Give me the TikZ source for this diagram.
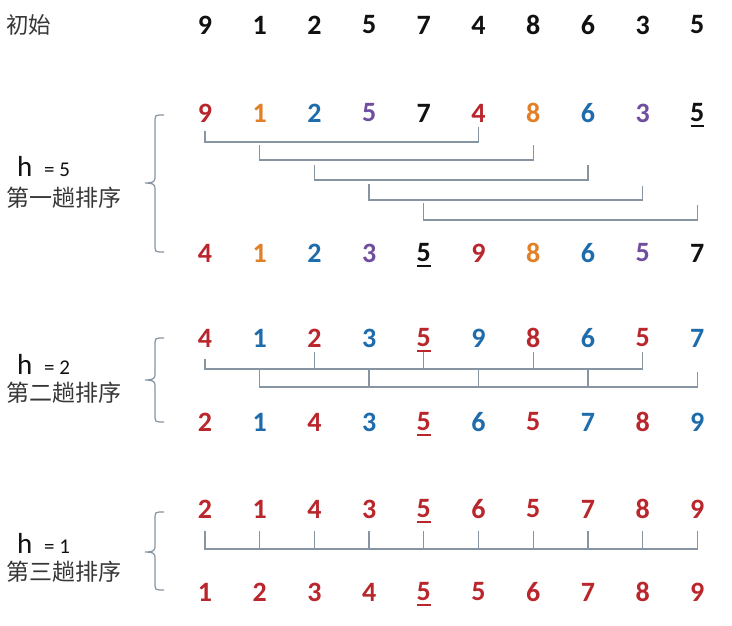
\documentclass[tikz,border=0pt]{standalone}
\usepackage{fontspec}
\newfontfamily\carl{Carlito}
\newfontfamily\cjk{Noto Sans CJK SC}
\definecolor{cR}{RGB}{185,38,44}
\definecolor{cO}{RGB}{226,128,40}
\definecolor{cB}{RGB}{30,108,172}
\definecolor{cP}{RGB}{112,78,158}
\definecolor{cK}{RGB}{17,17,17}
\definecolor{lineC}{RGB}{135,148,162}
\definecolor{labC}{RGB}{55,55,55}
\newcommand\digrow[3]{%
  \foreach \d/\c/\u [count=\i, evaluate=\i as \x using 205+(\i-1)*54.7] in {#3} {%
    \node[dig,text=\c] (#1\i) at (\x,#2) {\d};
    \ifnum\u=1
      \draw[line width=2pt,\c] ([yshift=-4pt,xshift=0.5pt]#1\i.south west) -- ([yshift=-4pt,xshift=-0.5pt]#1\i.south east);
    \fi
  }}
\begin{document}
\begin{tikzpicture}[x=1pt,y=-1pt,
  dig/.style={inner sep=0pt, font=\carl\bfseries\fontsize{28}{28}\selectfont},
  hlab/.style={inner sep=0pt, anchor=base west, text=cK, font=\carl\fontsize{29}{29}\selectfont},
  eqlab/.style={inner sep=0pt, anchor=base west, text=cK, font=\carl\fontsize{21}{21}\selectfont},
  cjlab/.style={inner sep=0pt, anchor=west, text=labC, font=\cjk\fontsize{23}{23}\selectfont},
  conn/.style={draw=lineC, line width=1.3pt},
  brace/.style={draw=lineC, line width=1.2pt}]
\useasboundingbox (0,0) rectangle (732,625);
\fill[white] (0,0) rectangle (732,625);

% initial row
\node[cjlab, font=\cjk\fontsize{22.5}{22.5}\selectfont] (init) at (6,25) {初始};
\digrow{r0}{25}{9/cK/0,1/cK/0,2/cK/0,5/cK/0,7/cK/0,4/cK/0,8/cK/0,6/cK/0,3/cK/0,5/cK/0}

% pass 1, h = 5
\digrow{r1t}{113}{9/cR/0,1/cO/0,2/cB/0,5/cP/0,7/cK/0,4/cR/0,8/cO/0,6/cB/0,3/cP/0,5/cK/1}
\digrow{r1b}{253}{4/cR/0,1/cO/0,2/cB/0,3/cP/0,5/cK/1,9/cR/0,8/cO/0,6/cB/0,5/cP/0,7/cK/0}
\node[hlab] (h1) at (17,176) {h};
\node[eqlab] (e1) at (44,176) {= 5};
\node[cjlab] (p1) at (6,198) {第一趟排序};
\draw[brace] (164,115) -- (159,115) .. controls (156,115) and (155,116) .. (155,119) -- (155,178) .. controls (155,182) and (152,183) .. (145,183) .. controls (152,183) and (155,184) .. (155,188) -- (155,248) .. controls (155,251) and (156,252) .. (159,252) -- (164,252);

\draw[conn] (r1t1 |- 0,131) -- (r1t1 |- 0,142) -- (r1t6 |- 0,142) -- (r1t6 |- 0,127);
\draw[conn] (r1t2 |- 0,145) -- (r1t2 |- 0,160) -- (r1t7 |- 0,160) -- (r1t7 |- 0,145);
\draw[conn] (r1t3 |- 0,165) -- (r1t3 |- 0,180) -- (r1t8 |- 0,180) -- (r1t8 |- 0,165);
\draw[conn] (r1t4 |- 0,184) -- (r1t4 |- 0,200) -- (r1t9 |- 0,200) -- (r1t9 |- 0,186);
\draw[conn] (r1t5 |- 0,203) -- (r1t5 |- 0,220) -- (r1t10 |- 0,220) -- (r1t10 |- 0,205);

% pass 2, h = 2
\digrow{r2t}{338}{4/cR/0,1/cB/0,2/cR/0,3/cB/0,5/cR/1,9/cB/0,8/cR/0,6/cB/0,5/cR/0,7/cB/0}
\digrow{r2b}{422}{2/cR/0,1/cB/0,4/cR/0,3/cB/0,5/cR/1,6/cB/0,5/cR/0,7/cB/0,8/cR/0,9/cB/0}
\node[hlab] (h2) at (17,374) {h};
\node[eqlab] (e2) at (44,374) {= 2};
\node[cjlab] (p2) at (6,393) {第二趟排序};
\draw[brace] (164,338) -- (159,338) .. controls (156,338) and (155,339) .. (155,342) -- (155,375) .. controls (155,379) and (152,380) .. (145,380) .. controls (152,380) and (155,381) .. (155,385) -- (155,418) .. controls (155,421) and (156,422) .. (159,422) -- (164,422);

\draw[conn] (r2t1 |- 0,359) -- (r2t1 |- 0,369) -- (r2t9 |- 0,369) -- (r2t9 |- 0,352);
\foreach \k in {3,5,7} \draw[conn] (r2t\k |- 0,352) -- (r2t\k |- 0,369);
\draw[conn] (r2t2 |- 0,369) -- (r2t2 |- 0,387) -- (r2t10 |- 0,387) -- (r2t10 |- 0,372);
\foreach \k in {4,6,8} \draw[conn] (r2t\k |- 0,369) -- (r2t\k |- 0,387);

% pass 3, h = 1
\digrow{r3t}{509}{2/cR/0,1/cR/0,4/cR/0,3/cR/0,5/cR/1,6/cR/0,5/cR/0,7/cR/0,8/cR/0,9/cR/0}
\digrow{r3b}{592}{1/cR/0,2/cR/0,3/cR/0,4/cR/0,5/cR/1,5/cR/0,6/cR/0,7/cR/0,8/cR/0,9/cR/0}
\node[hlab] (h3) at (17,553) {h};
\node[eqlab] (e3) at (44,553) {= 1};
\node[cjlab] (p3) at (6,572) {第三趟排序};
\draw[brace] (164,512) -- (159,512) .. controls (156,512) and (155,513) .. (155,516) -- (155,547) .. controls (155,551) and (152,552) .. (145,552) .. controls (152,552) and (155,553) .. (155,557) -- (155,586) .. controls (155,589) and (156,590) .. (159,590) -- (164,590);

\draw[conn] (r3t1 |- 0,531) -- (r3t1 |- 0,549) -- (r3t10 |- 0,549) -- (r3t10 |- 0,531);
\foreach \k in {2,...,9} \draw[conn] (r3t\k |- 0,531) -- (r3t\k |- 0,549);
\end{tikzpicture}
\end{document}
